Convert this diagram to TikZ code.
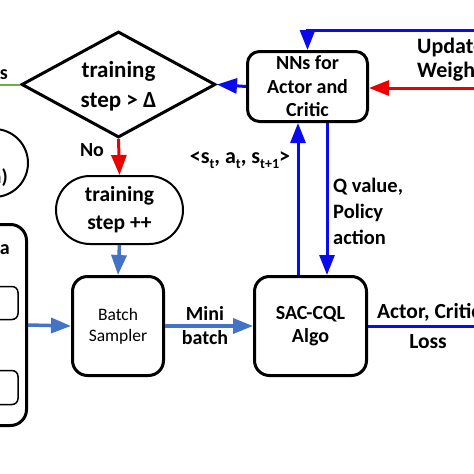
\documentclass[tikz,border=0pt]{standalone}
\usepackage{fontspec}
\setmainfont{Carlito}
\usetikzlibrary{arrows.meta,shapes.geometric}
\definecolor{pblue}{RGB}{10,10,235}
\definecolor{sblue}{RGB}{68,114,196}
\definecolor{pred}{RGB}{235,0,0}
\definecolor{pgreen}{RGB}{112,173,71}
\begin{document}
\begin{tikzpicture}[x=1pt,y=-1pt,
  box/.style={draw, line width=3pt, rounded corners=14pt, inner sep=0pt, align=center,
    font=\bfseries\fontsize{20}{23.5}\selectfont},
  lbl/.style={inner sep=0pt, align=center, font=\bfseries\fontsize{20}{24}\selectfont},
  arr/.style={-{Triangle[length=20pt,width=15pt]}},
  bline/.style={draw=pblue, line width=3pt},
  sline/.style={draw=sblue, line width=3.5pt},
]
\useasboundingbox (0,0) rectangle (474,474);
\clip (0,0) rectangle (474,474);

% decision diamond
\node[draw, diamond, line width=3pt, minimum width=194pt, minimum height=106pt, inner sep=0pt] (dec) at (118.5,84.5) {};
\node[lbl, font=\bfseries\fontsize{23}{30}\selectfont] (dectext) at (118.5,86) {training\\step > Δ};

% nodes
\node[box, minimum width=120pt, minimum height=70pt, rounded corners=12pt] (nn) at (307.5,86.5) {NNs for\\Actor and\\Critic};
\node[draw, line width=2pt, rounded corners=34pt, minimum width=127pt, minimum height=68pt, inner sep=0pt, align=center,
  font=\bfseries\fontsize{21.5}{28}\selectfont] (tsp) at (119.5,210) {training\\step ++};
\node[box, minimum width=91pt, minimum height=99pt, rounded corners=15pt, font=\fontsize{17.5}{21}\selectfont] (bs) at (118,326) {Batch\\Sampler};
\node[box, minimum width=112pt, minimum height=99pt, rounded corners=15pt] (sac) at (310.5,326) {SAC-CQL\\Algo};

% left partial shapes
\node[draw, line width=3pt, rounded corners=16pt, minimum width=200pt, minimum height=201pt, inner sep=0pt] (buf) at (-73.5,325) {};
\node[draw, line width=1.5pt, rounded corners=6pt, minimum width=60pt, minimum height=33pt, inner sep=0pt] (ib1) at (-12,303) {};
\node[draw, line width=1.5pt, rounded corners=6pt, minimum width=60pt, minimum height=34pt, inner sep=0pt] (ib2) at (-12,387.5) {};
\node[draw, circle, line width=2pt, minimum size=68pt, inner sep=0pt] (circ) at (-6,163) {};
\node[lbl, anchor=east] (bufl) at (10,248) {Data};
\node[lbl, anchor=east] (circl) at (8,178) {(a)};

% coordinates for free ends
\coordinate (yesL) at (-20,0);
\coordinate (topR) at (490,30);
\coordinate (redR) at (490,88);
\coordinate (lossR) at (490,326);
\coordinate (upx) at (298,0);
\coordinate (dnx) at (327,0);

% connectors
\draw[draw=pgreen, line width=2pt] (dec.west) -- (dec.west -| yesL);
\draw[bline, arr, fill=pblue] (nn.west) -- (dec.east);
\draw[draw=pred, line width=3pt, arr, fill=pred] (dec.south) -- (tsp.north);
\draw[sline, arr, fill=sblue] (tsp.south) -- (bs.north);
\draw[sline, arr, fill=sblue] (buf.east) -- (bs.west);
\draw[sline, arr, fill=sblue] (bs.east) -- (sac.west);
\draw[bline, arr, fill=pblue] (sac.north -| upx) -- (nn.south -| upx);
\draw[bline, arr, fill=pblue] (nn.south -| dnx) -- (sac.north -| dnx);
\draw[bline, arr, fill=pblue, rounded corners=0pt] (topR) -| (nn.north);
\draw[draw=pred, line width=3pt, arr, fill=pred] (redR) -- (redR -| nn.east);
\draw[bline] (sac.east) -- (lossR);

% labels
\node[lbl, anchor=east] (yes) at (8,73) {Yes};
\node[lbl] (no) at (92,150) {No};
\node[lbl, anchor=west, align=left, font=\bfseries\fontsize{22}{24}\selectfont] (upd) at (417,60) {Update\\Weights};
\node[lbl, font=\bfseries\fontsize{22}{24}\selectfont] (sas) at (240,160) {<s\raisebox{-0.45ex}{\fontsize{14}{14}\selectfont t}, a\raisebox{-0.45ex}{\fontsize{14}{14}\selectfont t}, s\raisebox{-0.45ex}{\fontsize{14}{14}\selectfont t+1}>};
\node[lbl, anchor=west, align=left, font=\bfseries\fontsize{20.5}{26}\selectfont] (qv) at (333,211) {Q value,\\Policy\\action};
\node[lbl] (mb) at (205,326) {Mini\\batch};
\node[lbl, anchor=west, font=\bfseries\fontsize{21.5}{24}\selectfont] (acl) at (377,312) {Actor, Critic};
\node[lbl, font=\bfseries\fontsize{21.5}{24}\selectfont] (loss) at (428,342) {Loss};
\end{tikzpicture}
\end{document}
